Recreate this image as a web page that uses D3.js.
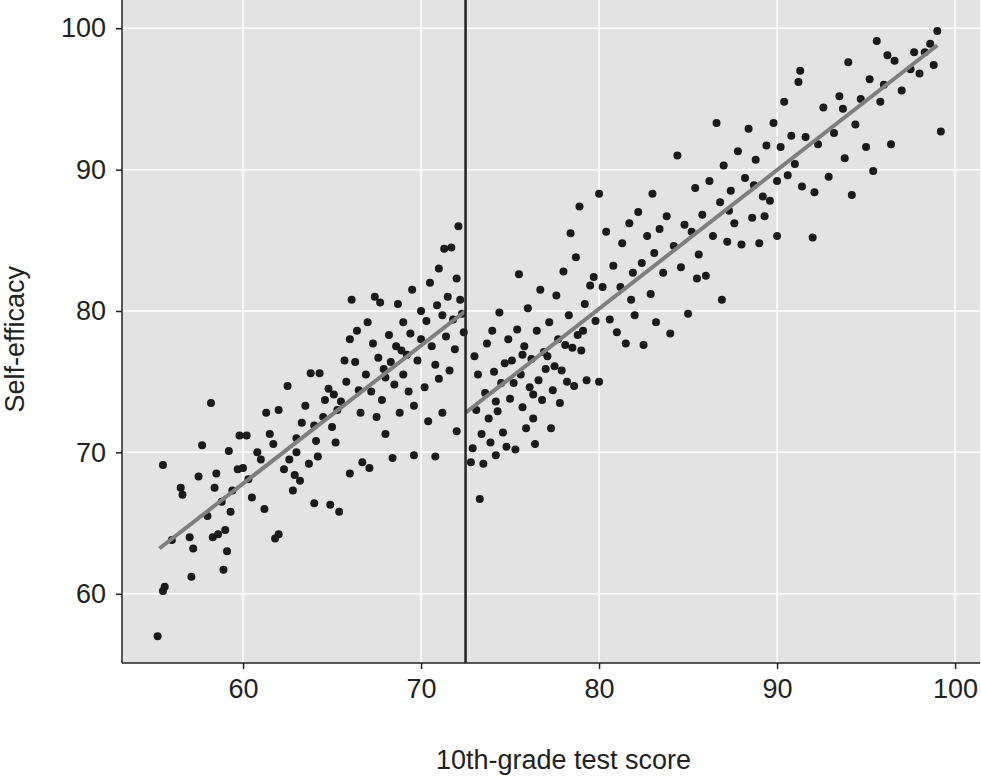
<!DOCTYPE html>
<html><head><meta charset="utf-8">
<script src="https://cdn.jsdelivr.net/npm/d3@7"></script>
<style>body{margin:0;background:#fff}svg{font-family:"Liberation Sans",Arial,sans-serif}</style>
</head><body><svg id="c" width="981" height="778"></svg>
<script>
const xTicks=[60,70,80,90,100];
const yTicks=[60,70,80,90,100];
const cutoff=72.5;
const fitLeft=[[55.3,63.2],[72.5,80]];
const fitRight=[[72.5,72.8],[99,98.8]];
const pointsLeft=[[55.2,57],[55.5,60.2],[55.6,60.5],[55.5,69.1],[56,63.8],[56.5,67.5],[56.6,67],[57,64],[57.1,61.2],[57.2,63.2],[57.5,68.3],[57.7,70.5],[58,65.5],[58.2,73.5],[58.3,64],[58.4,67.5],[58.5,68.5],[58.6,64.2],[58.8,66.5],[58.9,61.7],[59,64.5],[59.1,63],[59.3,65.8],[59.4,67.3],[59.7,68.8],[59.8,71.2],[60,68.9],[60.2,71.2],[60.5,66.8],[60.8,70],[61,69.5],[61.2,66],[61.5,71.3],[61.7,70.6],[61.8,63.9],[62,64.2],[62,73],[62.3,68.8],[62.5,74.7],[62.6,69.5],[62.8,67.3],[63,71],[63,70],[63.2,68],[63.3,72.1],[63.5,73.3],[63.7,69.2],[63.8,75.6],[64,71.9],[64,66.4],[64.2,69.7],[64.3,75.6],[64.5,72.5],[64.6,73.7],[64.8,74.5],[64.9,66.3],[65,71.8],[65.2,70.7],[65.3,73],[65.4,65.8],[65.5,73.6],[65.7,76.5],[65.8,75],[66,78],[66.1,80.8],[66,68.5],[66.3,76.4],[66.5,74.4],[66.6,72.8],[66.7,69.3],[66.9,75.5],[67,79.2],[67.1,68.9],[67.2,74.3],[67.3,77.7],[67.4,81],[67.5,72.5],[67.6,76.7],[67.7,80.6],[67.8,73.7],[68,75.3],[68,71.3],[68.2,78.3],[68.3,76.4],[68.4,69.6],[68.5,74.8],[68.6,77.5],[68.7,80.5],[68.8,72.8],[69,75.5],[69,79.2],[69.2,76.9],[69.3,74.3],[69.4,78.4],[69.5,81.5],[69.6,73.3],[69.8,76.5],[70,78],[70,80],[70.2,74.6],[70.3,79.3],[70.4,72.2],[70.5,82],[70.6,77.5],[70.8,76.2],[70.9,80.4],[71,75.2],[71,83],[71.2,79.7],[71.3,84.4],[71.4,78.2],[71.5,81],[71.6,75.8],[71.7,84.5],[71.8,79.4],[71.9,77.3],[72,82.3],[72,71.5],[72.1,86],[72.2,80.8],[72.3,79.8],[72.4,78.5],[71.2,72.8],[70.8,69.7],[69.6,69.8],[68.9,77.2],[67.9,75.9],[66.4,78.6],[65.1,74.1],[64.1,70.8],[62.9,68.4],[61.3,72.8],[60.3,68.1],[59.2,70.1]];
const pointsRight=[[72.8,69.3],[72.9,70.3],[73,76.8],[73.1,73],[73.2,75.5],[73.3,66.7],[73.4,71.3],[73.5,69.2],[73.6,74.2],[73.7,77.7],[73.8,72.4],[73.9,70.7],[74,78.6],[74.1,75.7],[74.2,69.8],[74.3,72.9],[74.4,79.9],[74.5,74.9],[74.6,71.4],[74.7,76.3],[74.8,70.4],[74.9,78],[75,73.8],[75.1,76.5],[75.2,74.9],[75.3,70.2],[75.4,78.7],[75.5,82.6],[75.6,75.5],[75.7,73.2],[75.8,77.5],[75.9,71.7],[76,80.2],[76.1,74.6],[76.2,76.6],[76.3,72.4],[76.4,70.6],[76.5,78.6],[76.6,75.1],[76.7,81.5],[76.8,73.7],[76.9,77.1],[77,75.9],[77.2,79.2],[77.3,71.7],[77.4,74.4],[77.5,76.1],[77.6,81.1],[77.7,78],[77.8,73.5],[77.9,75.8],[78,82.8],[78.1,77.6],[78.2,75],[78.3,79.7],[78.4,85.5],[78.5,77.4],[78.6,74.7],[78.7,83.8],[78.8,78.3],[78.9,87.4],[79,77.2],[79.2,80.5],[79.3,75.1],[79.5,81.8],[79.7,82.4],[79.8,79.3],[80,88.3],[80,75],[80.2,81.7],[80.4,85.6],[80.6,79.4],[80.8,83.2],[81,78.5],[81.2,81.7],[81.3,84.8],[81.5,77.7],[81.7,86.2],[81.9,82.7],[82,79.7],[82.2,87],[82.4,83.4],[82.5,77.6],[82.7,85.3],[82.9,81.2],[83,88.3],[83.2,79.2],[83.4,85.8],[83.6,82.7],[83.8,86.7],[84,78.4],[84.2,84.6],[84.4,91],[84.6,83.1],[84.8,86.1],[85,79.8],[85.2,85.6],[85.4,88.7],[85.6,84],[85.8,86.8],[86,82.5],[86.2,89.2],[86.4,85.3],[86.6,93.3],[86.8,87.7],[86.9,80.8],[87,90.3],[87.2,84.9],[87.4,88.5],[87.6,86.2],[87.8,91.3],[88,84.7],[88.2,89.4],[88.4,92.9],[88.6,86.6],[88.8,90.7],[89,84.8],[89.2,88.1],[89.4,91.7],[89.6,87.8],[89.8,93.3],[90,89.2],[90,85.3],[90.2,91.6],[90.4,94.8],[90.6,89.6],[90.8,92.4],[91,90.4],[91.2,96.2],[91.4,88.8],[91.6,92.3],[92,85.2],[92.3,91.8],[92.6,94.4],[92.9,89.5],[93.2,92.6],[93.5,95.2],[93.8,90.8],[94,97.6],[94.2,88.2],[94.4,93.2],[94.7,95],[95,91.6],[95.2,96.4],[95.4,89.9],[95.6,99.1],[95.8,94.8],[96,96],[96.2,98.1],[96.4,91.8],[96.6,97.7],[97,95.6],[97.5,97.1],[98,96.8],[98.3,98.3],[98.6,98.9],[99,99.8],[99.2,92.7],[98.8,97.4],[97.7,98.3],[93.7,94.3],[92.1,88.4],[91.3,97],[89.3,86.7],[76.3,74.1],[77.1,76.8],[79.1,78.6],[81.8,80.8],[83.1,84.1],[85.5,82.3],[87.3,87.1],[88.7,88.9],[74.2,73.6],[75.7,76.9]];

const svg=d3.select("#c");
const m={l:122,r:980,t:0,b:663};
const x=d3.scaleLinear().domain([53.2,101.4]).range([m.l,m.r]);
const y=d3.scaleLinear().domain([55.1,102]).range([m.b,m.t]);
svg.append("rect").attr("x",m.l).attr("y",m.t).attr("width",m.r-m.l).attr("height",m.b-m.t).attr("fill","#e3e3e3");
svg.append("g").selectAll("line").data(xTicks).join("line").attr("x1",x).attr("x2",x).attr("y1",m.t).attr("y2",m.b).attr("stroke","#fff").attr("stroke-width",1.5);
svg.append("g").selectAll("line").data(yTicks).join("line").attr("y1",y).attr("y2",y).attr("x1",m.l).attr("x2",m.r).attr("stroke","#fff").attr("stroke-width",1.5);
const pts=pointsLeft.concat(pointsRight);
svg.append("g").selectAll("circle").data(pts).join("circle").attr("cx",d=>x(d[0])).attr("cy",d=>y(d[1])).attr("r",4).attr("fill","#1a1a1a");
const ln=d3.line().x(d=>x(d[0])).y(d=>y(d[1]));
[fitLeft,fitRight].forEach(f=>svg.append("path").attr("d",ln(f)).attr("stroke","#7f7f7f").attr("stroke-width",4).attr("fill","none"));
svg.append("line").attr("x1",x(cutoff)).attr("x2",x(cutoff)).attr("y1",m.t).attr("y2",m.b).attr("stroke","#222").attr("stroke-width",2.5);
const xa=svg.append("g").attr("transform",`translate(0,${m.b})`).call(d3.axisBottom(x).tickValues(xTicks).tickSize(6).tickPadding(10));
const ya=svg.append("g").attr("transform",`translate(${m.l},0)`).call(d3.axisLeft(y).tickValues(yTicks).tickSize(6).tickPadding(10));
[xa,ya].forEach(a=>{a.selectAll("text").attr("font-size",27).attr("fill","#222").attr("font-family","Liberation Sans, Arial");a.selectAll("path,line").attr("stroke","#222").attr("stroke-width",1.5);});
xa.select(".domain").attr("d",`M${m.l},0H${m.r}`);
ya.select(".domain").attr("d",`M0,${m.t}V${m.b}`);
svg.append("text").attr("x",x(78)).attr("y",769).attr("text-anchor","middle").attr("font-size",27).attr("fill","#222").text("10th-grade test score");
svg.append("text").attr("transform",`translate(24,${y(78)}) rotate(-90)`).attr("text-anchor","middle").attr("font-size",27).attr("fill","#222").text("Self-efficacy");
</script></body></html>
